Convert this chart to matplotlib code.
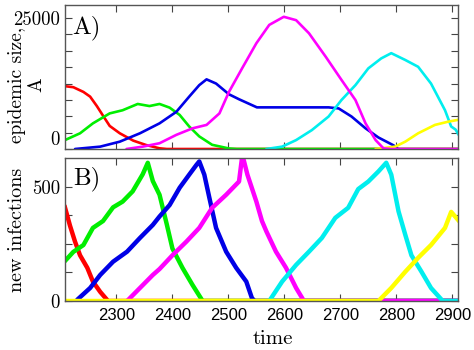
import matplotlib
matplotlib.use("Agg")
import matplotlib.pyplot as plt
import numpy as np

# ---------------- data: panel A (epidemic size) ----------------
red_A_t = [2208, 2223, 2241, 2253, 2265, 2277, 2288, 2306, 2330, 2353, 2377, 2390, 2912]
red_A = [12000, 11800, 10900, 10000, 8200, 6200, 4400, 3000, 1600, 760, 130, 0, 0]

green_A_t = [2208, 2235, 2258, 2288, 2311, 2338, 2359, 2377, 2395, 2413, 2430, 2448, 2471, 2501, 2515, 2912]
green_A = [1700, 3000, 4900, 6800, 7400, 8600, 8200, 8600, 7900, 6500, 4300, 2400, 800, 100, 0, 0]

blue_A_t = [2226, 2271, 2306, 2342, 2377, 2407, 2430, 2448, 2461, 2478, 2501, 2519, 2551, 2679, 2697, 2720, 2745, 2768, 2795, 2802]
blue_A = [0, 450, 1400, 3000, 4900, 7100, 10000, 12200, 13300, 12500, 10450, 9500, 7950, 7950, 7750, 6200, 3950, 2200, 700, 100]

magenta_A_t = [2318, 2347, 2377, 2407, 2436, 2461, 2484, 2501, 2525, 2550, 2573, 2599, 2621, 2644, 2674, 2702, 2727, 2745, 2763, 2777, 2790, 2912]
magenta_A = [0, 450, 1100, 2700, 3950, 4600, 6800, 10900, 15500, 20200, 23700, 25250, 24600, 22100, 17600, 13200, 9350, 4900, 1700, 130, 0, 0]

cyan_A_t = [2568, 2596, 2621, 2649, 2679, 2702, 2727, 2750, 2773, 2791, 2816, 2839, 2862, 2887, 2898, 2906, 2912]
cyan_A = [0, 450, 1700, 3600, 6200, 9350, 12200, 15400, 17300, 18300, 17000, 15700, 12500, 7400, 4300, 3700, 2600]

yellow_A_t = [2763, 2798, 2816, 2839, 2869, 2892, 2912]
yellow_A = [0, 450, 1400, 3000, 4600, 5200, 5600]

# ---------------- data: panel B (new infections) ----------------
red_B_t = [2208, 2217, 2226, 2235, 2248, 2258, 2271, 2285, 2912]
red_B = [410, 330, 260, 200, 145, 85, 40, 0, 0]

green_B_t = [2208, 2223, 2241, 2258, 2276, 2294, 2311, 2329, 2347, 2356, 2365, 2377, 2390, 2400, 2418, 2436, 2454, 2912]
green_B = [175, 215, 245, 320, 350, 410, 435, 480, 555, 605, 525, 465, 335, 230, 145, 70, 0, 0]

blue_B_t = [2232, 2253, 2271, 2294, 2319, 2342, 2365, 2377, 2395, 2413, 2430, 2443, 2448, 2457, 2466, 2478, 2496, 2514, 2532, 2542, 2547, 2912]
blue_B = [10, 57, 114, 172, 216, 276, 333, 370, 420, 496, 553, 596, 611, 553, 452, 320, 216, 145, 85, 13, 0, 0]

magenta_B_t = [2319, 2342, 2365, 2377, 2400, 2425, 2448, 2471, 2496, 2519, 2525, 2534, 2550, 2560, 2568, 2585, 2603, 2621, 2635, 2912]
magenta_B = [0, 57, 114, 140, 200, 260, 320, 408, 465, 523, 640, 553, 435, 350, 304, 216, 145, 57, 0, 0]

cyan_B_t = [2573, 2596, 2621, 2644, 2667, 2691, 2714, 2732, 2750, 2768, 2782, 2791, 2804, 2816, 2827, 2845, 2862, 2883, 2912]
cyan_B = [0, 85, 158, 216, 276, 364, 408, 490, 523, 567, 605, 553, 392, 290, 200, 128, 57, 0, 0]

yellow_B_t = [2208, 2768, 2791, 2816, 2839, 2862, 2887, 2898, 2912]
yellow_B = [0, 0, 57, 128, 189, 245, 320, 390, 350]

x_ticks = [2300, 2400, 2500, 2600, 2700, 2800, 2900]
x_labels = ["2300", "2400", "2500", "2600", "2700", "2800", "2900"]

COL = {"red": "#ff0000", "green": "#00ee00", "blue": "#0000e6",
       "magenta": "#ff00ff", "cyan": "#00eeee", "yellow": "#ffff00"}

serif = "cmr10"
sans = "Liberation Sans"

fig = plt.figure(figsize=(4.74, 3.5), dpi=100)
axA = fig.add_axes([0.137, 0.5743, 0.829, 0.4114])
axB = fig.add_axes([0.137, 0.14, 0.829, 0.4086])

# panel A: order red, green, blue, cyan, yellow, magenta
for t, v, c in [(red_A_t, red_A, "red"), (green_A_t, green_A, "green"),
                (blue_A_t, blue_A, "blue"), (cyan_A_t, cyan_A, "cyan"),
                (yellow_A_t, yellow_A, "yellow"), (magenta_A_t, magenta_A, "magenta")]:
    axA.plot(t, v, color=COL[c], lw=1.9, solid_capstyle="round")

# panel B: order red, green, blue, magenta, cyan, yellow
for t, v, c in [(red_B_t, red_B, "red"), (green_B_t, green_B, "green"),
                (blue_B_t, blue_B, "blue"), (magenta_B_t, magenta_B, "magenta"),
                (cyan_B_t, cyan_B, "cyan"), (yellow_B_t, yellow_B, "yellow")]:
    axB.plot(t, v, color=COL[c], lw=3.2)

for ax in (axA, axB):
    ax.set_xlim(2208, 2910)
    ax.set_xticks(x_ticks)
    ax.tick_params(axis="both", which="both", direction="in", top=True, right=True,
                   length=5, width=0.8, color="#444444")
    for s in ax.spines.values():
        s.set_color("#555555")
        s.set_linewidth(1.0)

axA.set_ylim(0, 27500)
axA.set_yticks([0, 25000])
axA.set_yticklabels(["0", "25000"], family=serif, fontsize=13.5)
axA.set_yticks(np.arange(0, 25001, 3125), minor=True)
axA.tick_params(axis="y", which="minor", direction="in", right=True, length=5, width=0.8, color="#444444")
axA.set_xticklabels([])
axA.get_yticklabels()[0].set_verticalalignment("bottom")

axB.set_ylim(0, 626)
axB.set_yticks([0, 500])
axB.set_yticklabels(["0", "500"], family=serif, fontsize=13.5)
axB.set_yticks(np.arange(0, 501, 125), minor=True)
axB.tick_params(axis="y", which="minor", direction="in", right=True, length=5, width=0.8, color="#444444")
axB.set_xticklabels(x_labels, family=sans, fontsize=12)
axB.tick_params(axis="x", pad=5)

axA.text(0.018, 0.93, "A)", transform=axA.transAxes, family=serif, fontsize=18, va="top", ha="left")
axB.text(0.02, 0.94, "B)", transform=axB.transAxes, family=serif, fontsize=18, va="top", ha="left")

fig.text(0.056, 0.757, "epidemic size,\nA", rotation=90, family=serif, fontsize=14,
         ha="center", va="center", multialignment="center", linespacing=1.1)
fig.text(0.036, 0.343, "new infections", rotation=90, family=serif, fontsize=14.5, ha="center", va="center")
fig.text(0.575, 0.03, "time", family=serif, fontsize=15, ha="center", va="center")

fig.savefig("out.png", dpi=100)
